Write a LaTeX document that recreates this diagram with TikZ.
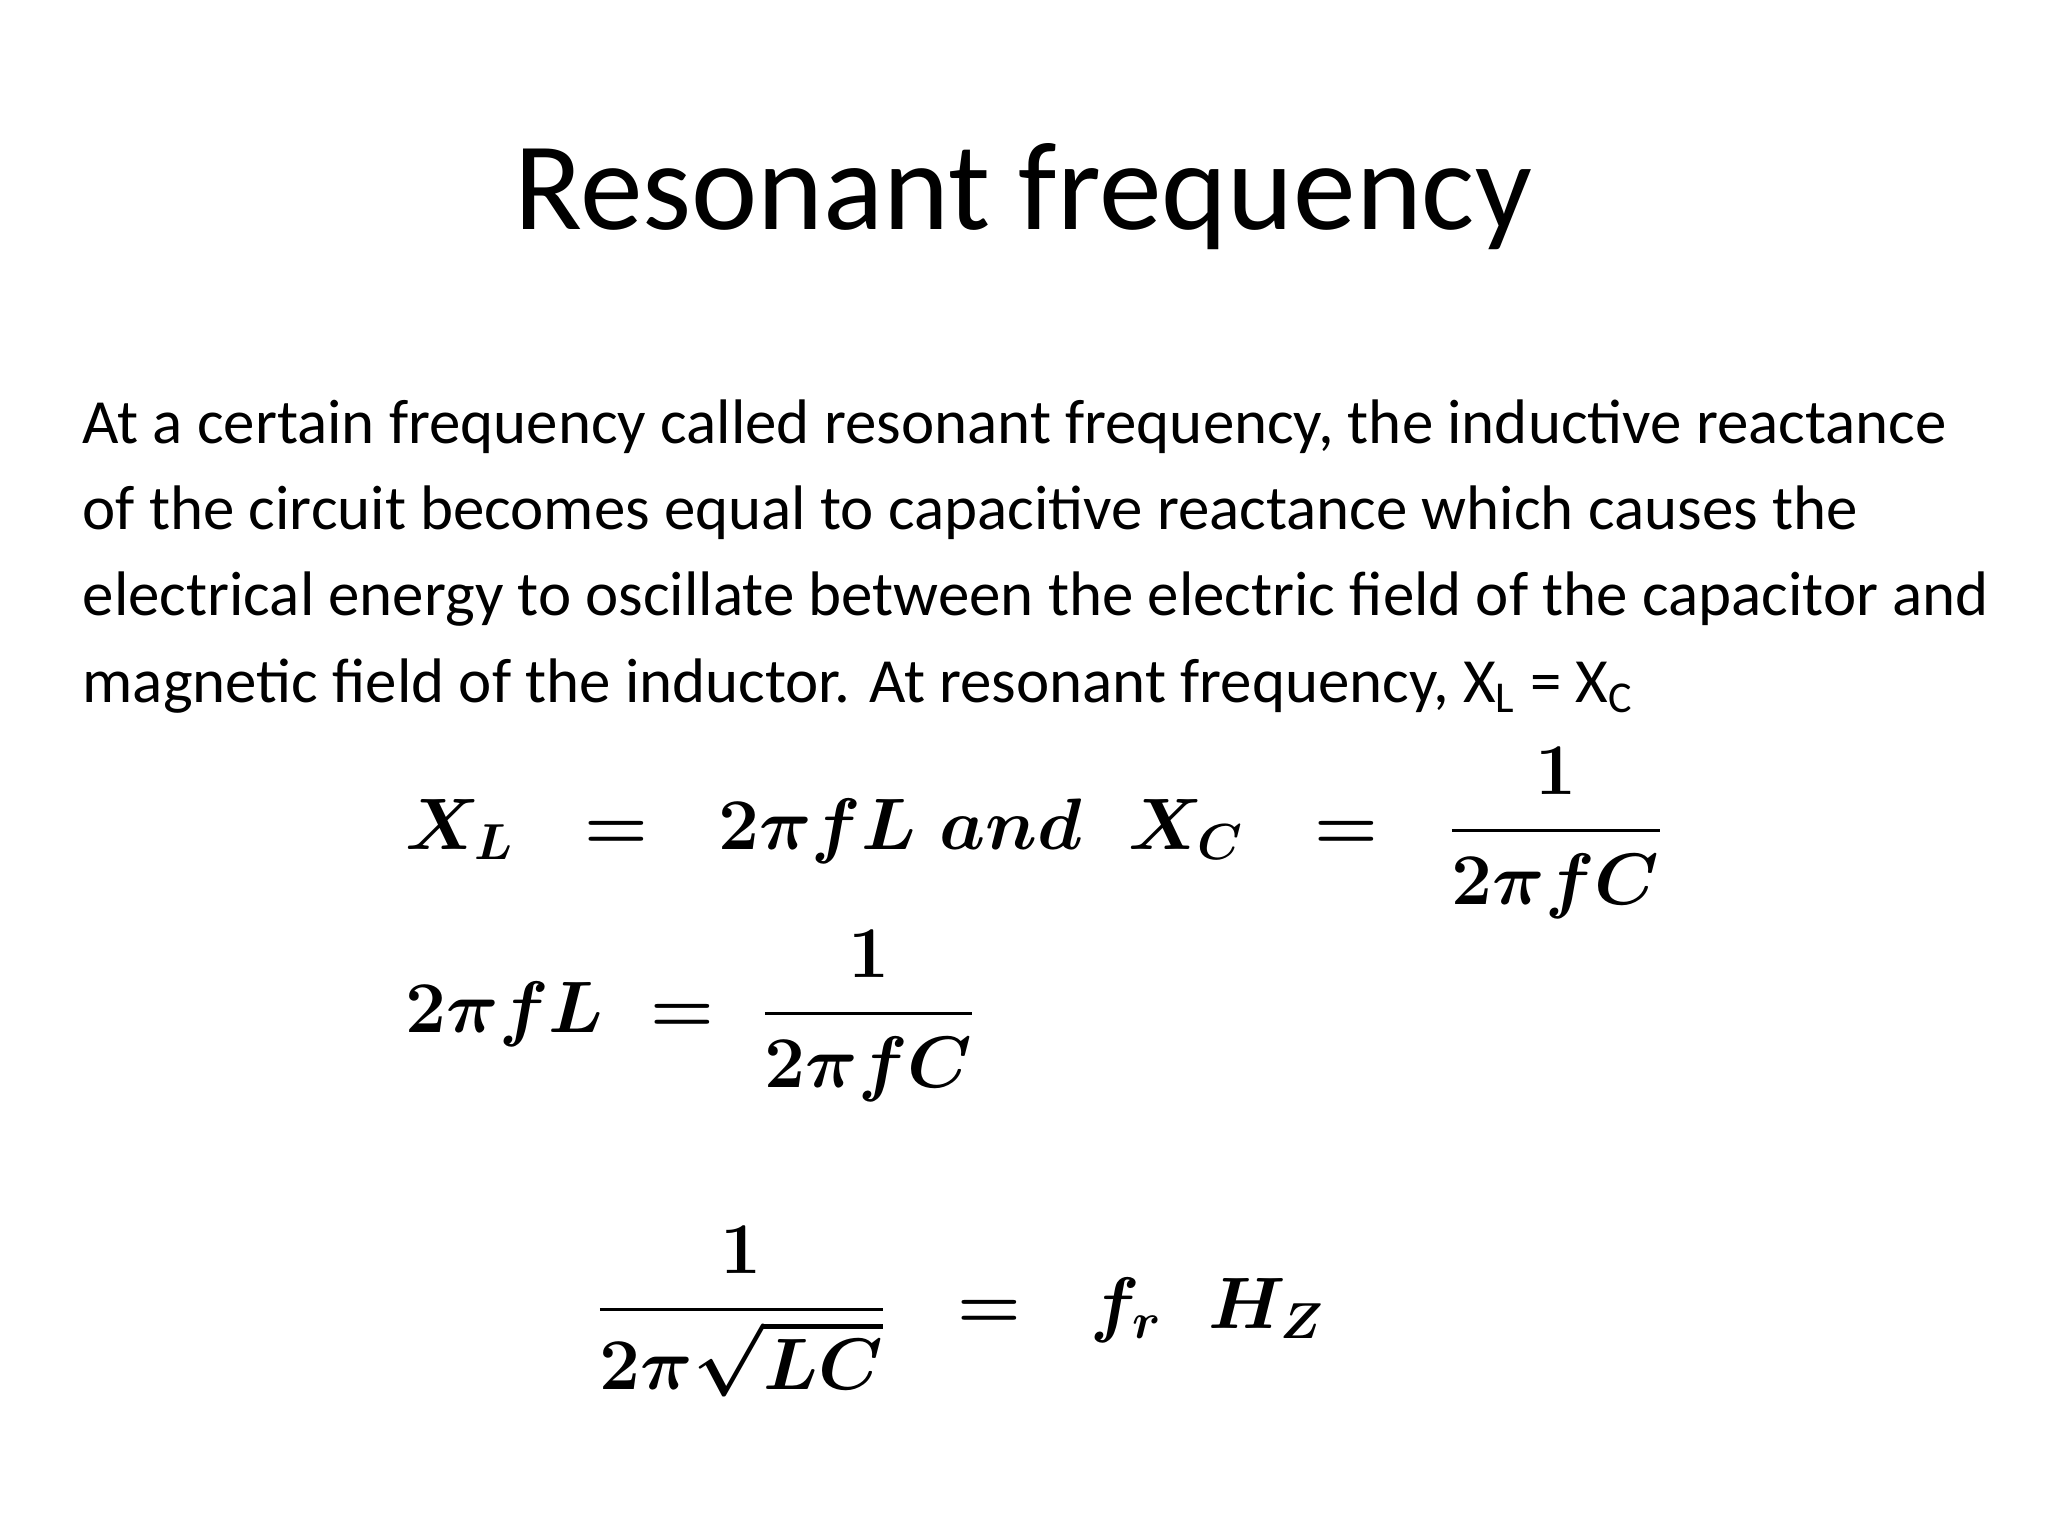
\documentclass[tikz,border=0pt]{standalone}
\usepackage{amsmath}
\usepackage{fontspec}
\setmainfont{Carlito}
\tikzset{body/.style={anchor=base west,inner sep=0pt,font=\fontsize{17.9}{20}\selectfont},
 eq/.style={anchor=base west,inner sep=0pt,font=\fontsize{19.5}{24}\selectfont}}
\begin{document}
\begin{tikzpicture}[x=1cm,y=-1cm]
\useasboundingbox[fill=white] (0,0) rectangle (20.48,15.36);
\node[anchor=base,inner sep=0pt,font=\fontsize{35.7}{40}\selectfont] (title) at (10.23,2.30) {Resonant frequency};
\node[body] (l1) at (0.82,4.44) {At a certain frequency called resonant frequency, the inductive reactance};
\node[body] (l2) at (0.82,5.30) {of the circuit becomes equal to capacitive reactance which causes the};
\node[body] (l3) at (0.82,6.16) {electrical energy to oscillate between the electric field of the capacitor and};
\node[body] (l4) at (0.82,7.03) {magnetic field of the inductor. At resonant frequency, X\textsubscript{L} = X\textsubscript{C}};
\node[eq] (e1) at (4.05,8.49) {$\boldsymbol{X_L \;\;=\;\; 2\pi f L\; \mathnormal{and}\;\; X_C \;\;=\;\; \dfrac{\;1\;}{2\pi f C}}$};
\node[eq] (e2) at (4.05,10.32) {$\boldsymbol{2\pi f L \;=\; \dfrac{1}{2\pi f C}}$};
\node[eq] (e3) at (5.95,13.28) {$\boldsymbol{\dfrac{1}{2\pi\sqrt{LC}} \;\;=\;\; f_r\;\; H_Z}$};
\end{tikzpicture}
\end{document}
